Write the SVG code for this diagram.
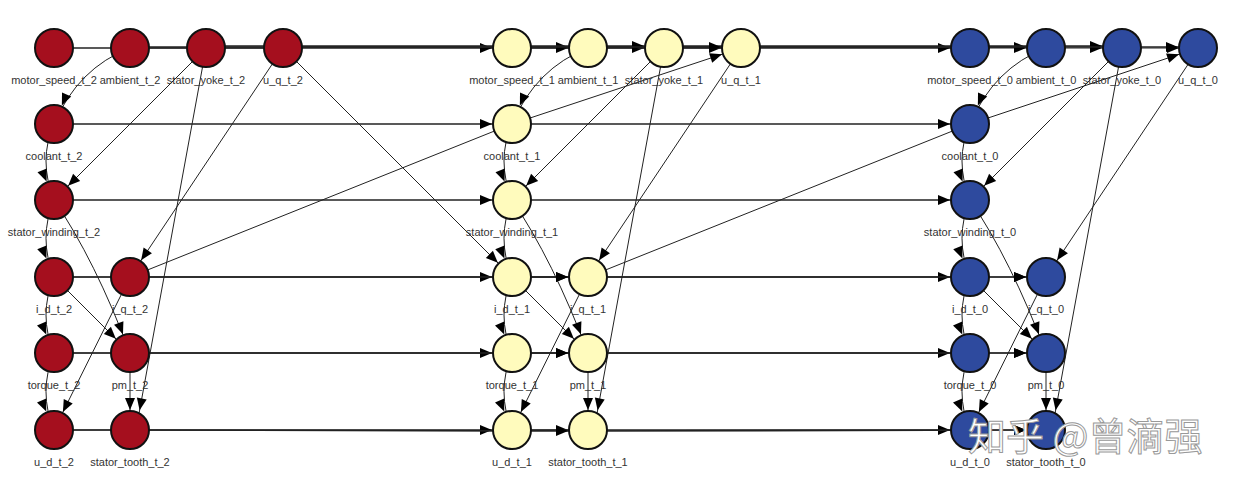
<svg xmlns="http://www.w3.org/2000/svg" width="1233" height="487" viewBox="0 0 1233 487">
<style>
.e{fill:none;stroke:#222;stroke-width:1;marker-end:url(#a)}
.h{fill:none;stroke:#222;stroke-width:1.6;marker-end:url(#a)}
.p{fill:none;stroke:#222;stroke-width:1}
.n circle{stroke:#111;stroke-width:2}
.r circle{fill:#a50f1e}.y circle{fill:#fffbbd}.b circle{fill:#2e4a9e}
text{font-family:"Liberation Sans",Arial,sans-serif;font-size:11px;fill:#333;text-anchor:middle}
.wm{font-family:"Noto Sans CJK SC","Liberation Sans",sans-serif;font-size:38px;fill:#fff;stroke:#999;stroke-width:1;text-anchor:start}
</style>
<defs>
<marker id="a" markerUnits="userSpaceOnUse" markerWidth="40" markerHeight="12" refX="32" refY="5" orient="auto" overflow="visible"><path d="M0,0 L12,5 L0,10 Z" fill="#000"/></marker>
<g id="intra">
<path class="e" d="M130,48 Q78,68 54,124"/>
<path class="e" d="M54,124 Q38,160 54,200"/>
<path class="e" d="M206,48 L54,200"/>
<path class="e" d="M54,200 Q38,238 54,277"/>
<path class="e" d="M54,200 Q95,260 130,353"/>
<path class="e" d="M54,277 Q38,315 54,353"/>
<path class="e" d="M54,277 L130,353"/>
<path class="e" d="M130,277 L54,430"/>
<path class="e" d="M54,353 Q38,392 54,430"/>
<path class="e" d="M130,353 L130,430"/>
<path class="e" d="M206,48 L136,430"/>
<path class="e" d="M283,48 L130,277"/>
</g>
<g id="hz">
<path class="e" d="M54,277 L130,277"/>
<path class="e" d="M54,353 L130,353"/>
<path class="e" d="M54,430 L130,430"/>
<path class="e" d="M54,48 L130,48"/>
<path class="e" d="M130,48 L206,48"/>
<path class="e" d="M206,48 L283,48"/>
</g>
</defs>
<g id="connectors">
<use href="#intra"/>
<use href="#intra" x="458"/>
<use href="#intra" x="916"/>
<g class="p"><path d="M54,277 L130,277"/><path d="M54,353 L130,353"/><path d="M54,430 L130,430"/><path d="M130,48 L206,48"/><path d="M206,48 L283,48"/></g>
<use href="#hz" x="458"/>
<use href="#hz" x="916"/>
<path class="e" d="M512,124 L741,48"/>
<path class="e" d="M970,124 L1198,48"/>
<path class="e" d="M283,48 L512,277"/>
<path class="p" d="M130,277 L512,124"/>
<path class="p" d="M588,277 L970,124"/>
<path class="h" d="M54,48 L512,48"/><path class="h" d="M512,48 L970,48"/>
<path class="h" d="M130,47 L588,47"/><path class="h" d="M588,47 L1046,47"/>
<path class="h" d="M206,46 L664,46"/><path class="h" d="M664,46 L1122,46"/>
<path class="h" d="M283,47 L741,47"/><path class="h" d="M741,47 L1198,47"/>
<path class="h" d="M54,124 L512,124"/><path class="h" d="M512,124 L970,124"/>
<path class="h" d="M54,200 L512,200"/><path class="h" d="M512,200 L970,200"/>
<path class="h" d="M54,277 L512,277"/><path class="h" d="M512,277 L970,277"/>
<path class="h" d="M130,277 L588,277"/><path class="h" d="M588,277 L1046,277"/>
<path class="h" d="M54,353 L512,353"/><path class="h" d="M512,353 L970,353"/>
<path class="h" d="M130,353 L588,353"/><path class="h" d="M588,353 L1046,353"/>
<path class="h" d="M54,430 L512,430"/><path class="h" d="M512,430 L970,430"/>
<path class="h" d="M130,430 L588,431"/><path class="h" d="M588,431 L1046,430"/>
</g>
<g class="n r">
<g id="motor_speed_t_2"><circle cx="54" cy="48" r="19"/><text x="54" y="84">motor_speed_t_2</text></g>
<g id="ambient_t_2"><circle cx="130" cy="48" r="19"/><text x="130" y="84">ambient_t_2</text></g>
<g id="stator_yoke_t_2"><circle cx="206" cy="48" r="19"/><text x="206" y="84">stator_yoke_t_2</text></g>
<g id="u_q_t_2"><circle cx="283" cy="48" r="19"/><text x="283" y="84">u_q_t_2</text></g>
<g id="coolant_t_2"><circle cx="54" cy="124" r="19"/><text x="54" y="160">coolant_t_2</text></g>
<g id="stator_winding_t_2"><circle cx="54" cy="200" r="19"/><text x="54" y="236">stator_winding_t_2</text></g>
<g id="i_d_t_2"><circle cx="54" cy="277" r="19"/><text x="54" y="313">i_d_t_2</text></g>
<g id="i_q_t_2"><circle cx="130" cy="277" r="19"/><text x="130" y="313">i_q_t_2</text></g>
<g id="torque_t_2"><circle cx="54" cy="353" r="19"/><text x="54" y="389">torque_t_2</text></g>
<g id="pm_t_2"><circle cx="130" cy="353" r="19"/><text x="130" y="389">pm_t_2</text></g>
<g id="u_d_t_2"><circle cx="54" cy="430" r="19"/><text x="54" y="466">u_d_t_2</text></g>
<g id="stator_tooth_t_2"><circle cx="130" cy="430" r="19"/><text x="130" y="466">stator_tooth_t_2</text></g>
</g>
<g class="n y">
<g id="motor_speed_t_1"><circle cx="512" cy="48" r="19"/><text x="512" y="84">motor_speed_t_1</text></g>
<g id="ambient_t_1"><circle cx="588" cy="48" r="19"/><text x="588" y="84">ambient_t_1</text></g>
<g id="stator_yoke_t_1"><circle cx="664" cy="48" r="19"/><text x="664" y="84">stator_yoke_t_1</text></g>
<g id="u_q_t_1"><circle cx="741" cy="48" r="19"/><text x="741" y="84">u_q_t_1</text></g>
<g id="coolant_t_1"><circle cx="512" cy="124" r="19"/><text x="512" y="160">coolant_t_1</text></g>
<g id="stator_winding_t_1"><circle cx="512" cy="200" r="19"/><text x="512" y="236">stator_winding_t_1</text></g>
<g id="i_d_t_1"><circle cx="512" cy="277" r="19"/><text x="512" y="313">i_d_t_1</text></g>
<g id="i_q_t_1"><circle cx="588" cy="277" r="19"/><text x="588" y="313">i_q_t_1</text></g>
<g id="torque_t_1"><circle cx="512" cy="353" r="19"/><text x="512" y="389">torque_t_1</text></g>
<g id="pm_t_1"><circle cx="588" cy="353" r="19"/><text x="588" y="389">pm_t_1</text></g>
<g id="u_d_t_1"><circle cx="512" cy="430" r="19"/><text x="512" y="466">u_d_t_1</text></g>
<g id="stator_tooth_t_1"><circle cx="588" cy="430" r="19"/><text x="588" y="466">stator_tooth_t_1</text></g>
</g>
<g class="n b">
<g id="motor_speed_t_0"><circle cx="970" cy="48" r="19"/><text x="970" y="84">motor_speed_t_0</text></g>
<g id="ambient_t_0"><circle cx="1046" cy="48" r="19"/><text x="1046" y="84">ambient_t_0</text></g>
<g id="stator_yoke_t_0"><circle cx="1122" cy="48" r="19"/><text x="1122" y="84">stator_yoke_t_0</text></g>
<g id="u_q_t_0"><circle cx="1198" cy="48" r="19"/><text x="1198" y="84">u_q_t_0</text></g>
<g id="coolant_t_0"><circle cx="970" cy="124" r="19"/><text x="970" y="160">coolant_t_0</text></g>
<g id="stator_winding_t_0"><circle cx="970" cy="200" r="19"/><text x="970" y="236">stator_winding_t_0</text></g>
<g id="i_d_t_0"><circle cx="970" cy="277" r="19"/><text x="970" y="313">i_d_t_0</text></g>
<g id="i_q_t_0"><circle cx="1046" cy="277" r="19"/><text x="1046" y="313">i_q_t_0</text></g>
<g id="torque_t_0"><circle cx="970" cy="353" r="19"/><text x="970" y="389">torque_t_0</text></g>
<g id="pm_t_0"><circle cx="1046" cy="353" r="19"/><text x="1046" y="389">pm_t_0</text></g>
<g id="u_d_t_0"><circle cx="970" cy="430" r="19"/><text x="970" y="466">u_d_t_0</text></g>
<g id="stator_tooth_t_0"><circle cx="1046" cy="430" r="19"/><text x="1046" y="466">stator_tooth_t_0</text></g>
</g>
<text class="wm" x="968" y="450">知乎 @曾滴强</text>
</svg>
